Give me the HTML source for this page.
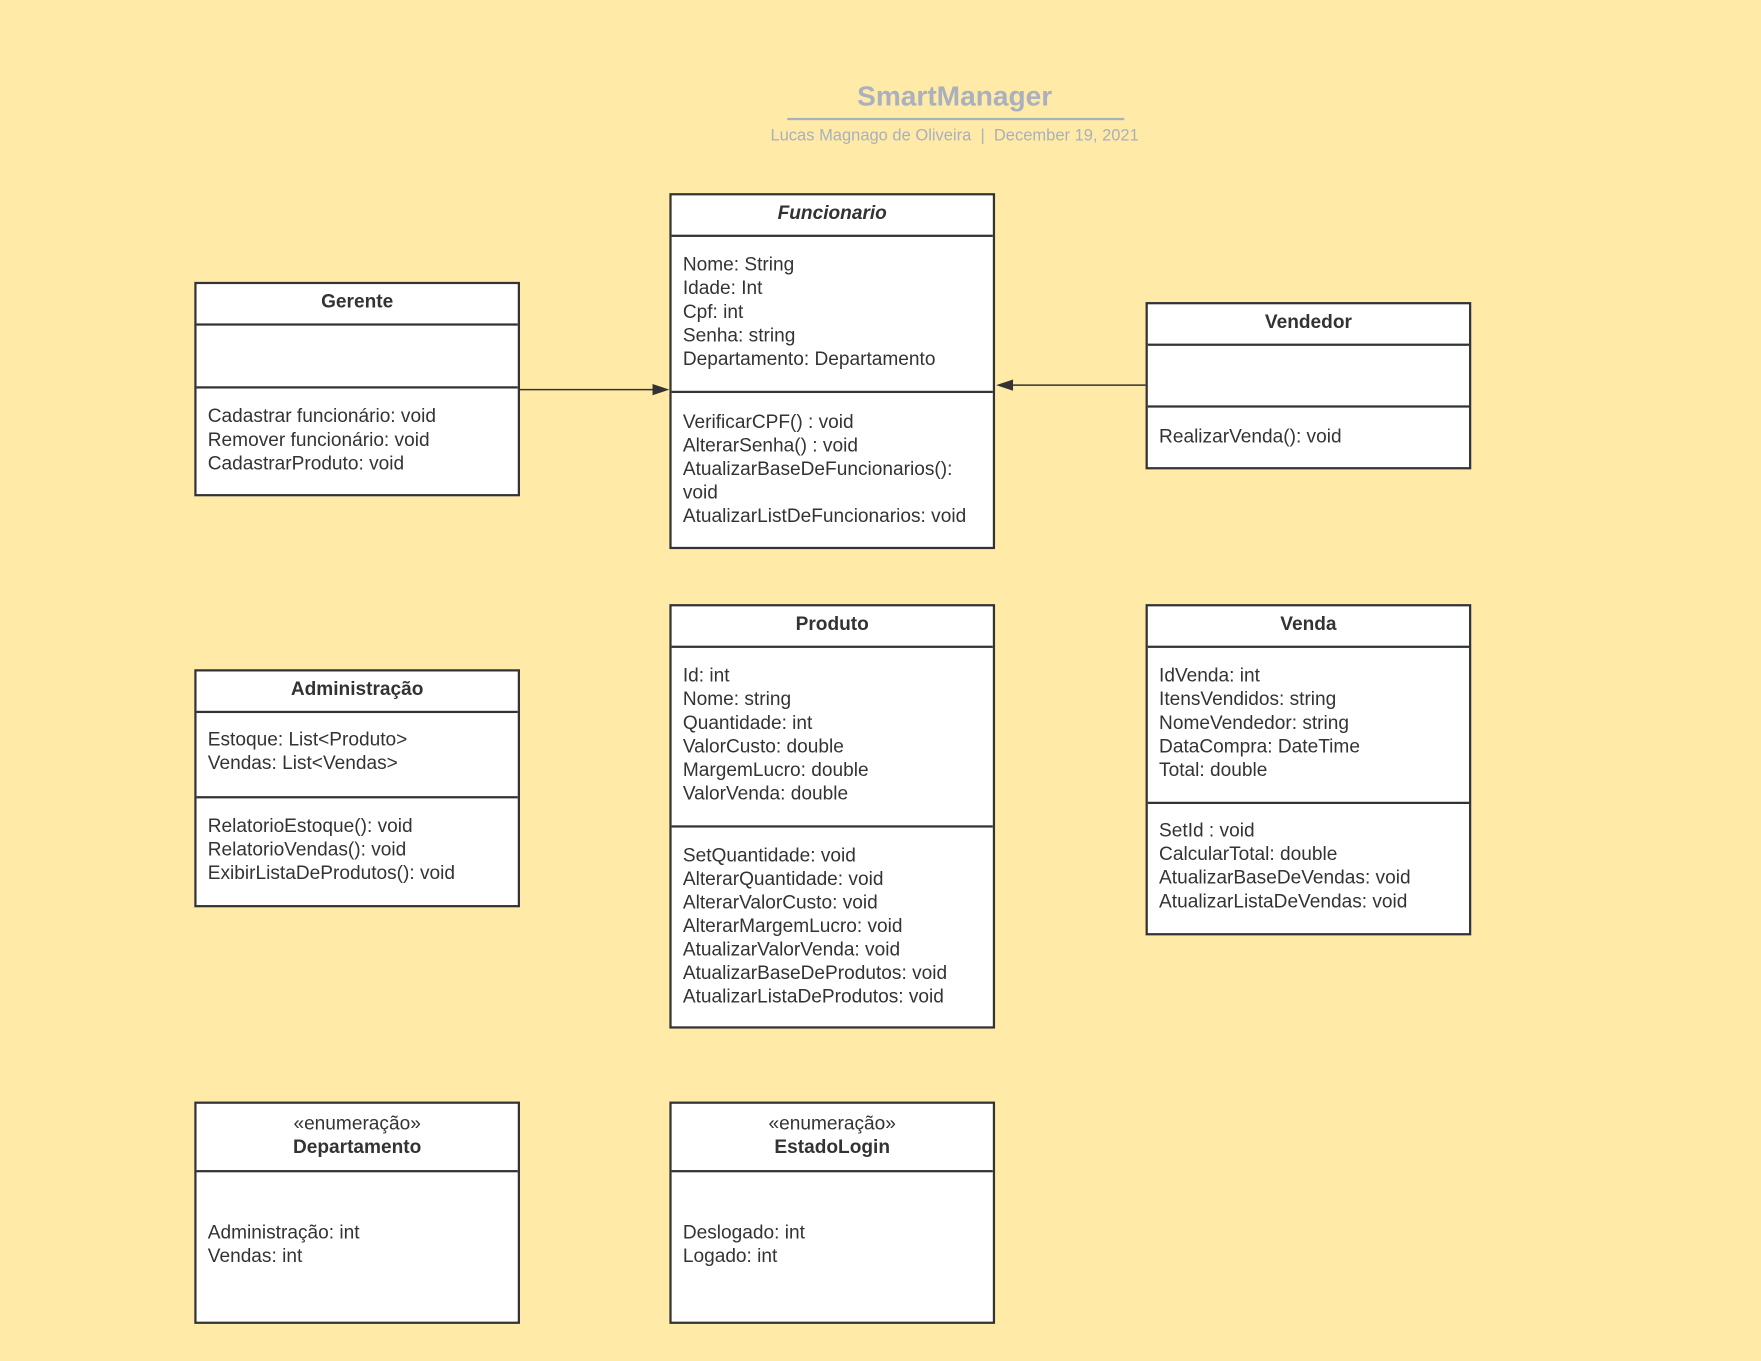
<!DOCTYPE html>
<html><head><meta charset="utf-8"><style>
html,body{margin:0;padding:0;}
body{width:1761px;height:1361px;overflow:hidden;background:#ffeaa7;font-family:"Liberation Sans",sans-serif;}
#s{position:absolute;left:0;top:0;width:1568px;height:1212px;transform:scale(1.1231,1.1229);transform-origin:0 0;}
.b{position:absolute;background:#fff;border:2px solid #333;box-sizing:border-box;color:#333;}
.h{position:absolute;left:0;right:0;top:0;border-bottom:2px solid #333;text-align:center;font-weight:bold;font-size:17px;box-sizing:border-box;}
.c{position:absolute;left:0;right:0;padding:15px 10px 0 10px;font-size:17px;line-height:21px;box-sizing:border-box;white-space:nowrap;}
.d{border-top:2px solid #333;}
.t{position:absolute;font-size:17px;line-height:21px;}
</style></head><body><div id="s">
<div style="position:absolute;left:600px;width:500px;top:72px;text-align:center;font-weight:bold;font-size:25px;color:#a9b0be;">SmartManager</div>
<div style="position:absolute;left:701px;width:300px;top:105px;height:2px;background:#a9b0be;"></div>
<div style="position:absolute;left:550px;width:600px;top:113px;text-align:center;font-size:14.7px;color:#a9b0be;">Lucas Magnago de Oliveira &nbsp;|&nbsp; December 19, 2021</div>

<div class="b" style="left:596px;top:172px;width:290px;height:317px;">
<div class="h" style="height:37px;line-height:32px;font-style:italic;">Funcionario</div>
<div class="c" style="top:36px;">Nome: String<br>Idade: Int<br>Cpf: int<br>Senha: string<br>Departamento: Departamento</div>
<div class="c d" style="top:174px;">VerificarCPF() : void<br>AlterarSenha() : void<br>AtualizarBaseDeFuncionarios():<br>void<br>AtualizarListDeFuncionarios: void</div>
</div>

<div class="b" style="left:173px;top:251px;width:290px;height:191px;">
<div class="h" style="height:37px;line-height:32px;">Gerente</div>
<div class="c d" style="top:91px;padding-top:14px;">Cadastrar funcionário: void<br>Remover funcionário: void<br>CadastrarProduto: void</div>
</div>

<div class="b" style="left:1020px;top:269px;width:290px;height:149px;">
<div class="h" style="height:37px;line-height:32px;">Vendedor</div>
<div class="c d" style="top:90px;">RealizarVenda(): void</div>
</div>

<svg style="position:absolute;left:0;top:0" width="1568" height="1212">
<line x1="463" y1="347" x2="584" y2="347" stroke="#333" stroke-width="1.3"/>
<polygon points="596,347 581,342 581,352" fill="#333"/>
<line x1="1020" y1="343" x2="900" y2="343" stroke="#333" stroke-width="1.3"/>
<polygon points="887,343 902,338 902,348" fill="#333"/>
</svg>

<div class="b" style="left:596px;top:538px;width:290px;height:378px;">
<div class="h" style="height:37px;line-height:32px;">Produto</div>
<div class="c" style="top:36px;">Id: int<br>Nome: string<br>Quantidade: int<br>ValorCusto: double<br>MargemLucro: double<br>ValorVenda: double</div>
<div class="c d" style="top:195px;padding-top:14px;">SetQuantidade: void<br>AlterarQuantidade: void<br>AlterarValorCusto: void<br>AlterarMargemLucro: void<br>AtualizarValorVenda: void<br>AtualizarBaseDeProdutos: void<br>AtualizarListaDeProdutos: void</div>
</div>

<div class="b" style="left:1020px;top:538px;width:290px;height:295px;">
<div class="h" style="height:37px;line-height:32px;">Venda</div>
<div class="c" style="top:36px;">IdVenda: int<br>ItensVendidos: string<br>NomeVendedor: string<br>DataCompra: DateTime<br>Total: double</div>
<div class="c d" style="top:174px;padding-top:13px;">SetId : void<br>CalcularTotal: double<br>AtualizarBaseDeVendas: void<br>AtualizarListaDeVendas: void</div>
</div>

<div class="b" style="left:173px;top:596px;width:290px;height:212px;">
<div class="h" style="height:37px;line-height:32px;">Administração</div>
<div class="c" style="top:35px;padding-top:15px;">Estoque: List&lt;Produto&gt;<br>Vendas: List&lt;Vendas&gt;</div>
<div class="c d" style="top:111px;padding-top:14px;">RelatorioEstoque(): void<br>RelatorioVendas(): void<br>ExibirListaDeProdutos(): void</div>
</div>

<div class="b" style="left:173px;top:981px;width:290px;height:198px;">
<div class="h" style="height:61px;padding-top:7px;line-height:21px;"><span style="font-weight:normal">«enumeração»</span><br>Departamento</div>
<div class="t" style="left:10px;top:104px;">Administração: int<br>Vendas: int</div>
</div>

<div class="b" style="left:596px;top:981px;width:290px;height:198px;">
<div class="h" style="height:61px;padding-top:7px;line-height:21px;"><span style="font-weight:normal">«enumeração»</span><br>EstadoLogin</div>
<div class="t" style="left:10px;top:104px;">Deslogado: int<br>Logado: int</div>
</div>
</div></body></html>
